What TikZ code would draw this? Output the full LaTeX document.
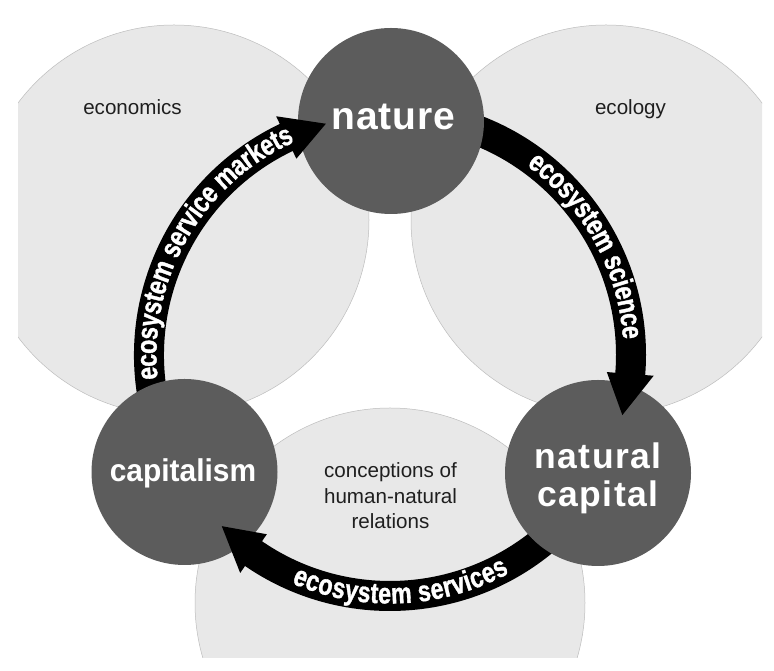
\documentclass[tikz,border=0pt]{standalone}
\usepackage{fontspec}
\setmainfont{Liberation Sans}
\usetikzlibrary{decorations.text}
\newfontfamily\arrowfamily{Liberation Sans Bold}[FakeStretch=0.8,FakeBold=1.2]
\newfontfamily\naturefamily{Liberation Sans Bold}[LetterSpace=2.5]
\newfontfamily\natcapfamily{Liberation Sans Bold}[LetterSpace=4]
\newfontfamily\capfamily{Liberation Sans Bold}[FakeStretch=0.95]
\newcommand\arrowtextfont{\arrowfamily\fontsize{29}{30}\selectfont}
\definecolor{fieldfill}{gray}{0.91}
\definecolor{fieldedge}{gray}{0.74}
\definecolor{hubfill}{gray}{0.36}
\definecolor{labeltext}{gray}{0.12}
\begin{document}
\begin{tikzpicture}[x=1pt,y=1pt,
  field/.style={circle,fill=fieldfill,draw=fieldedge,line width=0.5pt,minimum size=390pt,inner sep=0pt},
  hub/.style={circle,fill=hubfill,minimum size=186pt,inner sep=0pt},
  fieldlabel/.style={text=labeltext,font=\fontsize{20.6}{25.5}\selectfont,align=center,inner sep=0pt},
  hublabel/.style={text=white,align=center,inner sep=0pt},
  band/.style={draw=black,line width=30pt},
  head/.style={fill=black}
]
\useasboundingbox (0,0) rectangle (774,671);
\fill[white] (0,0) rectangle (774,671);
\coordinate (O) at (390,316);
% large field circles
\begin{scope}
  \clip (18,13) rectangle (762,671);
  \node[field] (econ) at (174,451) {};
  \node[field] (ecol) at (606,451) {};
  \node[field] (conc) at (390,68) {};
\end{scope}
\node[fieldlabel,anchor=base] (econlbl) at (132.5,556) {economics};
\node[fieldlabel,anchor=base] (ecollbl) at (630.5,556) {ecology};
\node[fieldlabel] (conclbl) at (390.5,175) {conceptions of\\human-natural\\relations};
% arrow bands
\draw[band] ([shift={(200:241)}]O) arc[start angle=200,end angle=114.5,radius=241];
\draw[band] ([shift={(80:241)}]O) arc[start angle=80,end angle=-5.5,radius=241];
\draw[band] ([shift={(-40:241)}]O) arc[start angle=-40,end angle=-125.5,radius=241];
% hub circles
\node[hub] (nature) at (391,550) {};
\node[hub] (capitalism) at (184.5,199) {};
\node[hub] (natcap) at (598,198) {};
% arrow heads
\fill[head] ([shift={(115.5:264.5)}]O) -- ([shift={(105.5:240)}]O) -- ([shift={(115.5:217.5)}]O) -- cycle;
\fill[head] ([shift={(-4.5:264.5)}]O) -- ([shift={(-14.5:240)}]O) -- ([shift={(-4.5:217.5)}]O) -- cycle;
\fill[head] ([shift={(-124.5:264.5)}]O) -- ([shift={(-134.5:240)}]O) -- ([shift={(-124.5:217.5)}]O) -- cycle;
% arrow texts
\path[decorate,decoration={text along path,text align=center,raise=-7.5pt,text color=white,
  text={|\arrowtextfont|ecosystem service markets}}]
  ([shift={(190:241)}]O) arc[start angle=190,end angle=110,radius=241];
\path[decorate,decoration={text along path,text align=center,raise=-7.5pt,text color=white,
  text={|\arrowtextfont|ecosystem science}}]
  ([shift={(70:241)}]O) arc[start angle=70,end angle=-12,radius=241];
\path[decorate,decoration={text along path,text align=center,raise=-7.5pt,text color=white,
  text={|\arrowtextfont|ecosystem services}}]
  ([shift={(232:241)}]O) arc[start angle=232,end angle=313.4,radius=241];
% hub labels
\node[hublabel,anchor=base,font=\naturefamily\fontsize{39}{40}\selectfont] (naturelbl) at (393.5,541) {nature};
\node[hublabel,anchor=base,font=\capfamily\fontsize{31.5}{33}\selectfont] (caplbl) at (183,189) {capitalism};
\node[hublabel,font=\natcapfamily\fontsize{35.5}{38}\selectfont] (natcaplbl) at (598,193) {natural\\capital};
\end{tikzpicture}
\end{document}
